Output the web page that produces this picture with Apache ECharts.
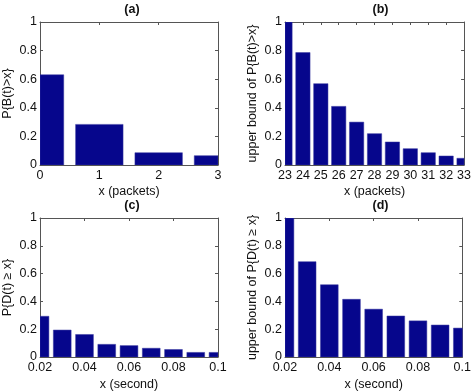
<!DOCTYPE html>
<html><head><meta charset="utf-8">
<script src="https://cdn.jsdelivr.net/npm/echarts@6/dist/echarts.min.js"></script>
<style>html,body{margin:0;padding:0;background:#fff}#c{width:474px;height:392px}</style>
</head><body><div id="c"></div>
<script>
// Panel (a)
var aX = [0, 1, 2, 3];
var aY = [0.631, 0.284, 0.086, 0.065];
// Panel (b)
var bX = [23, 24, 25, 26, 27, 28, 29, 30, 31, 32, 33];
var bY = [1.0, 0.786, 0.569, 0.41, 0.30, 0.219, 0.161, 0.114, 0.086, 0.063, 0.047];
// Panel (c)
var cX = [0.02, 0.03, 0.04, 0.05, 0.06, 0.07, 0.08, 0.09, 0.10];
var cY = [0.293, 0.194, 0.162, 0.091, 0.082, 0.063, 0.054, 0.033, 0.033];
// Panel (d)
var dX = [0.02, 0.03, 0.04, 0.05, 0.06, 0.07, 0.08, 0.09, 0.10];
var dY = [1.0, 0.686, 0.52, 0.415, 0.344, 0.295, 0.26, 0.23, 0.208];
// Tick labels
var yTicks = [0, 0.2, 0.4, 0.6, 0.8, 1];
var titles = ['(a)', '(b)', '(c)', '(d)'];
var yNames = ['P{B(t)>x}', 'upper bound of P{B(t)>x}', 'P{D(t) \u2265 x}', 'upper bound of P{D(t) \u2265 x}'];
var xNames = ['x (packets)', 'x (packets)', 'x (second)', 'x (second)'];

var FONT = 'Liberation Sans, Arial, Helvetica, sans-serif';
var BAR = '#06068c';
var AXC = '#555';

var grids = [
  {left: 36, top: 22, width: 182, height: 143},
  {left: 285, top: 22, width: 181, height: 143},
  {left: 36, top: 218, width: 182, height: 142},
  {left: 285, top: 218, width: 181, height: 142}
];
var xCfg = [
  {min: 0, max: 3, interval: 1, step: 1},
  {min: 23, max: 33, interval: 1, step: 1},
  {min: 0.02, max: 0.1, interval: 0.02, step: 0.01},
  {min: 0.02, max: 0.1, interval: 0.02, step: 0.01}
];
var xs = [aX, bX, cX, dX], ys = [aY, bY, cY, dY];

function fmtX(i) {
  return function (v) {
    if (i < 2) return String(Math.round(v));
    var r = Math.round(v * 100) / 100;
    return String(r);
  };
}

var xAxes = [], yAxes = [], series = [];
for (var i = 0; i < 4; i++) {
  var base = {
    type: 'value', gridIndex: i, min: xCfg[i].min, max: xCfg[i].max, interval: xCfg[i].interval,
    splitLine: {show: false},
    axisLine: {show: true, onZero: false, lineStyle: {color: AXC, width: 1}},
    axisTick: {show: true, inside: true, length: 3, lineStyle: {color: AXC}}
  };
  xAxes.push(Object.assign({}, base, {
    position: 'bottom',
    name: xNames[i], nameLocation: 'middle', nameGap: i < 2 ? 20 : 21,
    nameTextStyle: {fontFamily: FONT, fontSize: 12.5, color: '#111'},
    axisLabel: {show: true, fontFamily: FONT, fontSize: 12.5, color: '#111', margin: 4, formatter: fmtX(i)}
  }));
  xAxes.push(Object.assign({}, base, {position: 'top', axisLabel: {show: false}}));
  var ybase = {
    type: 'value', gridIndex: i, min: 0, max: 1, interval: 0.2,
    splitLine: {show: false},
    axisLine: {show: true, onZero: false, lineStyle: {color: AXC, width: 1}},
    axisTick: {show: true, inside: true, length: 3, lineStyle: {color: AXC}}
  };
  yAxes.push(Object.assign({}, ybase, {
    position: 'left',
    name: yNames[i], nameLocation: 'middle', nameGap: 26,
    nameTextStyle: {fontFamily: FONT, fontSize: 12.5, color: '#111'},
    axisLabel: {show: true, fontFamily: FONT, fontSize: 12.5, color: '#111', margin: 3,
      formatter: function (v) { return String(Math.round(v * 10) / 10); }}
  }));
  yAxes.push(Object.assign({}, ybase, {position: 'right', axisLabel: {show: false}}));
  var data = xs[i].map(function (x, k) { return [x, ys[i][k]]; });
  (function (step) {
    series.push({
      type: 'custom', xAxisIndex: i * 2, yAxisIndex: i * 2, data: data,
      clip: true,
      renderItem: function (params, api) {
        var x = api.value(0), y = api.value(1), w = 0.8 * step;
        var p0 = api.coord([x - w / 2, y]);
        var p1 = api.coord([x + w / 2, 0]);
        var cs = params.coordSys;
        var r = echarts.graphic.clipRectByRect(
          {x: p0[0], y: p0[1], width: p1[0] - p0[0], height: p1[1] - p0[1]},
          {x: cs.x, y: cs.y, width: cs.width, height: cs.height});
        if (!r) return null;
        return {type: 'rect', shape: r, style: {fill: BAR, stroke: '#3a3aa0', lineWidth: 0.5}};
      }
    });
  })(xCfg[i].step);
}

var titleObjs = titles.map(function (t, i) {
  var g = grids[i];
  return {text: t, left: g.left + g.width / 2, top: g.top - 24, textAlign: 'center',
    textStyle: {fontFamily: FONT, fontSize: 12.5, fontWeight: 'bold', color: '#111'}};
});

var chart = echarts.init(document.getElementById('c'), null, {renderer: 'canvas'});
chart.setOption({
  animation: false,
  title: titleObjs,
  grid: grids,
  xAxis: xAxes,
  yAxis: yAxes,
  series: series
});
</script>
</body></html>
